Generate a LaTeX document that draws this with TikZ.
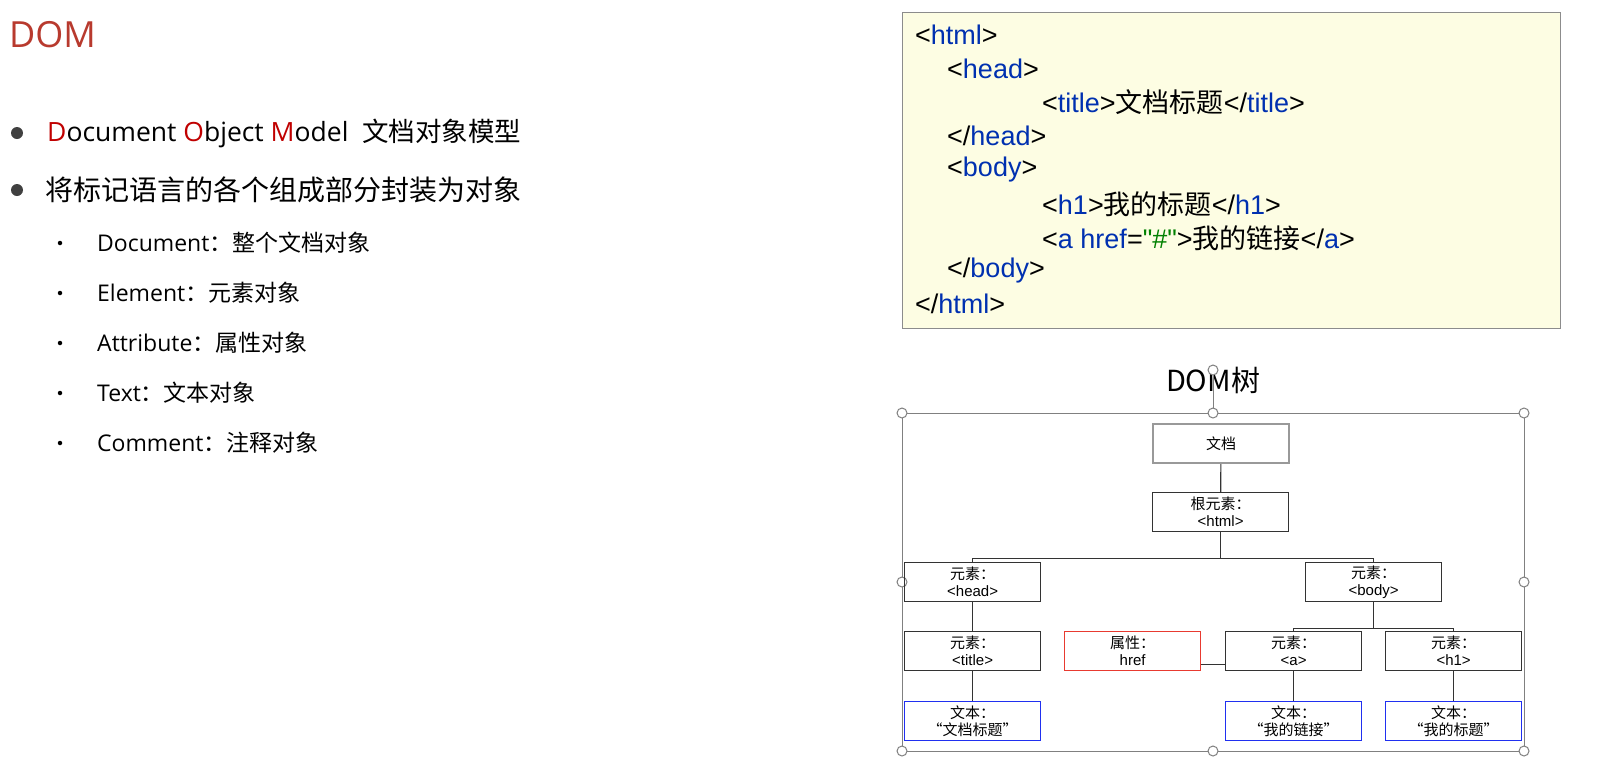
\documentclass[tikz,border=0pt]{standalone}
\usepackage{fontspec}
\setmainfont{Open Sans}
\newfontfamily\cjk{Noto Sans CJK SC}
\newfontfamily\codef{Liberation Sans}
\definecolor{domred}{HTML}{B83A2E}
\definecolor{mred}{HTML}{C00000}
\definecolor{tagblue}{HTML}{0030B0}
\definecolor{strgreen}{HTML}{008000}
\definecolor{codebg}{HTML}{FDFDE3}
\definecolor{txtblue}{HTML}{2030F0}
\definecolor{attrred}{HTML}{E83A30}
\newcommand{\tg}[1]{\textcolor{tagblue}{#1}}
\tikzset{
  box/.style={draw=black!80,line width=1.2pt,minimum width=136pt,minimum height=39pt,inner sep=0pt,align=center,font=\fontsize{15}{17}\selectfont\cjk,anchor=north west},
  gbox/.style={box,draw=black!40,line width=2pt},
  tbox/.style={box,draw=txtblue},
  abox/.style={box,draw=attrred},
  conn/.style={draw=black!80,line width=1.2pt},
  handle/.style={circle,draw=black!50,fill=white,minimum size=10pt,inner sep=0pt,line width=1pt},
  codeline/.style={anchor=west,font=\fontsize{27}{30}\selectfont\codef,inner sep=0pt},
  sub/.style={anchor=west,font=\fontsize{23}{26}\selectfont,inner sep=0pt},
  dot/.style={circle,fill=black,inner sep=0pt}
}
\begin{document}
\begin{tikzpicture}[x=1pt,y=-1pt]
\useasboundingbox[fill=white] (0,0) rectangle (1603,780);
% left
\node[anchor=west,inner sep=0pt,text=domred,font=\fontsize{36}{40}\selectfont] (title) at (9,35) {DOM};
\node[dot,minimum size=12pt,fill=black!75] (b1) at (17,133) {};
\node[anchor=west,inner sep=0pt,font=\fontsize{26.5}{30}\selectfont] (t1) at (47,133) {\textcolor{mred}{D}ocument \textcolor{mred}{O}bject \textcolor{mred}{M}odel\ \ {\cjk 文档对象模型}};
\node[dot,minimum size=12pt,fill=black!75] (b2) at (17,190) {};
\node[anchor=west,inner sep=0pt,font=\fontsize{28}{32}\selectfont\cjk] (t2) at (45,190) {将标记语言的各个组成部分封装为对象};
\foreach \y/\t [count=\i] in {243/{Document{\cjk：整个文档对象}},293/{Element{\cjk：元素对象}},343/{Attribute{\cjk：属性对象}},393/{Text{\cjk：文本对象}},443/{Comment{\cjk：注释对象}}}{
  \node[dot,minimum size=4.5pt] (sd\i) at (60,\y) {};
  \node[sub] (st\i) at (97,\y) {\t};
}
% code box
\node[draw=black!45,fill=codebg,line width=0.8pt,minimum width=658pt,minimum height=316pt,anchor=north west,inner sep=0pt] (code) at (902,12) {};
\node[codeline] (c1) at (915,35) {<\tg{html}>};
\node[codeline] (c2) at (947,69) {<\tg{head}>};
\node[codeline] (c3) at (1042,102) {<\tg{title}>{\cjk 文档标题}</\tg{title}>};
\node[codeline] (c4) at (947,136) {</\tg{head}>};
\node[codeline] (c5) at (947,170) {<\tg{body}>};
\node[codeline] (c6) at (1042,204) {<\tg{h1}>{\cjk 我的标题}</\tg{h1}>};
\node[codeline] (c7) at (1042,238) {<\tg{a href}=\textcolor{strgreen}{"\#"}>{\cjk 我的链接}</\tg{a}>};
\node[codeline] (c8) at (947,271) {</\tg{body}>};
\node[codeline] (c9) at (915,304) {</\tg{html}>};
% DOM tree
\node[font=\fontsize{29}{32}\selectfont\cjk,inner sep=0pt] (treetitle) at (1213,380) {DOM树};
\draw[black!50,line width=0.8pt] (902,413) rectangle (1524,751);
\draw[black!50,line width=0.8pt] (1213,372) -- (1213,413);
\node[handle] (hr) at (1213,370) {};
\foreach \p [count=\i] in {(902,413),(1213,413),(1524,413),(902,582),(1524,582),(902,751),(1213,751),(1524,751)}
  \node[handle] (h\i) at \p {};
\node[gbox] (doc) at (1152,423) {文档};
\node[box] (html) at (1152,492) {根元素：\\{\codef <html>}};
\node[box] (head) at (904,562) {元素：\\{\codef <head>}};
\node[box] (body) at (1305,562) {元素：\\{\codef <body>}};
\node[box] (ttl) at (904,631) {元素：\\{\codef <title>}};
\node[abox] (href) at (1064,631) {属性：\\{\codef href}};
\node[box] (a) at (1225,631) {元素：\\{\codef <a>}};
\node[box] (h1) at (1385,631) {元素：\\{\codef <h1>}};
\node[tbox] (tx1) at (904,701) {文本：\\“文档标题”};
\node[tbox] (tx2) at (1225,701) {文本：\\“我的链接”};
\node[tbox] (tx3) at (1385,701) {文本：\\“我的标题”};
\draw[conn] (doc) -- (html);
\draw[conn] (html.south) -- ++(0,26) -| (head.north);
\draw[conn] (html.south) -- ++(0,26) -| (body.north);
\draw[conn] (body.south) -- ++(0,26) -| (a.north);
\draw[conn] (body.south) -- ++(0,26) -| (h1.north);
\draw[conn] (head) -- (ttl);
\draw[conn] (ttl) -- (tx1);
\draw[conn] (a) -- (tx2);
\draw[conn] (h1) -- (tx3);
\draw[conn] ([yshift=-13pt]href.east) -- ([yshift=-13pt]a.west);
\end{tikzpicture}
\end{document}
